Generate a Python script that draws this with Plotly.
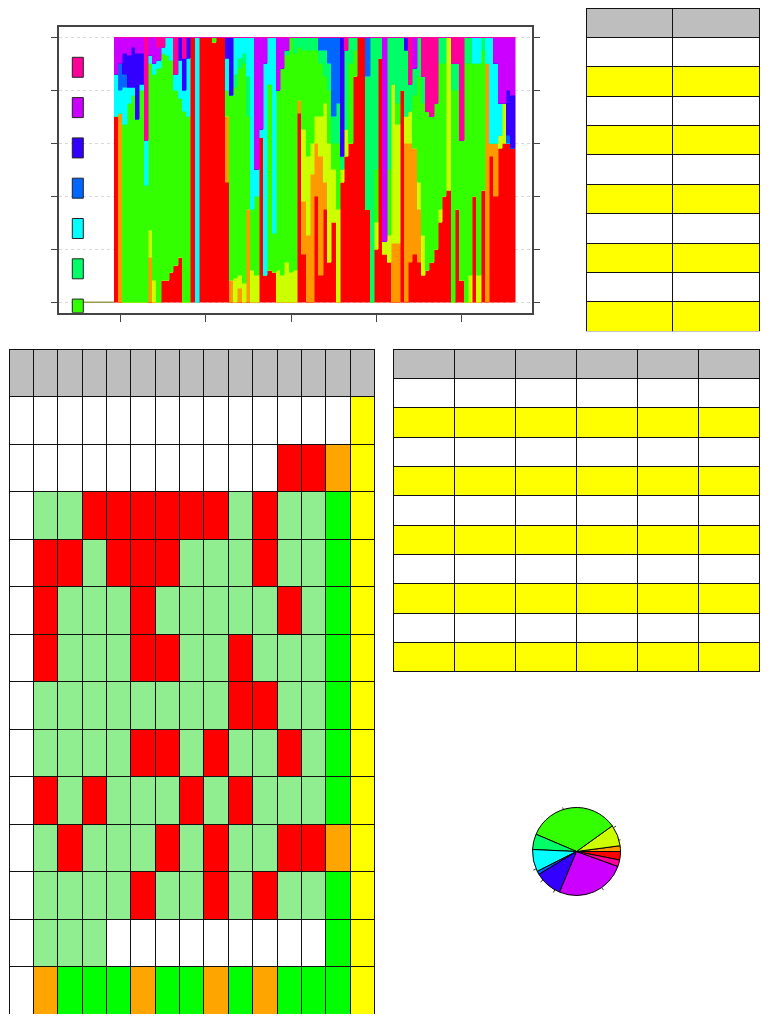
import math
import plotly.graph_objects as go

W, H = 768, 1024

# ---------------- stacked share chart data (10 series, 94 columns) -------------
series_colors = ['#FF0000', '#FF9900', '#CCFF00', '#33FF00', '#00FF66',
                 '#00FFFF', '#0066FF', '#3300FF', '#CC00FF', '#FF0099']

col_x = list(range(19, 113))          # 94 columns
lead_zero_x = [9.8, 18.5]             # stretch with all-zero values

s_red = [70,0,0,0,0,0,0,0,0,0,
         0,8,8,11,14,17,0,0,100,0,
         100,100,100,98,100,100,45,0,0,0,
         0,0,0,0,62,10,12,11,0,0,
         0,0,0,71,18,0,0,40,10,35,
         15,30,0,45,55,60,85,100,100,35,
         0,20,92,18,15,0,0,80,0,15,
         18,15,10,12,15,20,30,40,42,0,
         35,8,0,0,40,0,42,0,55,40,
         58,60,60,58]
s_orange = [0,71,0,0,0,0,0,0,17,0,
            0,0,0,0,0,0,0,0,0,0,
            0,0,0,0,0,0,25,8,0,5,
            0,35,0,0,0,0,0,0,0,0,
            0,0,0,5,20,25,48,20,45,10,
            0,0,0,0,0,0,0,0,0,0,
            0,0,0,0,0,22,22,0,60,45,
            40,20,0,0,0,0,0,0,0,0,
            0,0,0,0,0,0,0,90,5,20,
            0,0,0,0]
s_yellow = [0,0,0,0,0,0,0,0,10,8,
            0,0,0,0,0,0,0,0,0,0,
            0,0,0,0,0,0,0,0,9,5,
            7,0,12,10,0,0,0,0,12,10,
            15,11,12,0,27,30,12,10,15,30,
            45,20,35,5,10,0,0,0,0,0,
            0,10,0,5,10,60,45,0,10,12,
            0,10,15,0,0,0,5,0,58,0,
            0,0,0,10,0,10,0,0,0,0,
            5,15,0,0]
s_green = [0,0,67,75,78,69,80,44,63,78,
           88,86,85,80,66,60,72,70,0,0,
           0,0,0,2,0,0,10,70,72,78,
           83,35,23,30,0,0,70,15,68,78,
           78,89,82,20,30,40,35,25,20,10,
           20,10,25,0,0,30,10,0,0,0,
           0,20,0,0,25,0,8,0,0,0,
           20,40,50,60,55,55,55,50,0,80,
           45,53,90,80,50,80,53,0,0,0,
           0,0,0,0]
s_spring = [0,0,0,0,0,0,0,0,0,0,
            0,0,0,0,0,0,0,0,0,0,
            0,0,0,0,0,0,0,0,5,4,
            4,15,0,0,0,0,0,0,0,0,
            2,0,6,4,5,5,5,5,5,10,
            10,10,15,5,30,10,5,0,0,50,
            100,50,8,0,50,18,25,20,25,10,
            10,15,10,0,0,0,10,10,0,10,
            10,0,10,10,0,0,5,0,0,0,
            0,0,0,0]
s_cyan = [16,9,14,6,3,0,2,17,3,4,
          3,2,7,9,6,14,8,22,0,100,
          0,0,0,0,0,0,12,0,14,8,
          6,15,65,10,3,80,18,74,0,0,
          0,0,0,0,0,0,0,0,0,0,
          0,0,0,0,0,0,0,0,0,0,
          0,0,0,0,0,0,0,0,0,0,
          0,0,0,0,0,0,0,0,0,0,
          0,0,0,0,10,10,0,10,40,30,
          12,0,0,0]
s_azure = [0,10,5,0,0,0,0,0,0,0,
           0,0,0,0,0,0,0,0,0,0,
           0,0,0,0,0,0,0,0,0,0,
           0,0,0,0,0,0,0,0,0,0,
           0,0,0,0,0,0,0,0,5,5,
           10,30,25,0,0,0,0,0,0,15,
           0,0,0,0,0,0,0,0,0,0,
           0,0,0,0,0,0,0,0,0,0,
           0,0,0,0,0,0,0,0,0,0,
           0,0,3,0]
s_blue = [0,0,8,12,15,25,12,0,0,0,
          0,0,0,0,0,9,12,8,0,0,
          0,0,0,0,0,0,8,22,0,0,
          0,0,0,0,0,0,0,0,0,0,
          0,0,0,0,0,0,0,0,0,0,
          0,0,0,45,0,0,0,0,0,0,
          0,0,0,0,0,0,0,0,5,0,
          0,0,0,0,0,0,0,0,0,0,
          0,0,0,0,0,0,0,0,0,0,
          0,0,17,20]
s_purple = [14,10,6,7,4,6,6,0,7,10,
            5,0,0,0,0,0,0,0,0,0,
            0,0,0,0,0,0,0,0,0,0,
            0,0,0,50,35,10,0,0,20,12,
            5,0,0,0,0,0,0,0,0,0,
            0,0,0,0,0,0,0,0,0,0,
            0,0,0,77,0,0,0,0,0,0,
            12,0,0,0,0,0,0,0,0,0,
            0,0,0,0,0,0,0,0,0,10,
            25,25,20,22]
s_pink = [0,0,0,0,0,0,0,39,0,0,
          4,4,0,0,14,0,8,0,0,0,
          0,0,0,0,0,0,0,0,0,0,
          0,0,0,0,0,0,0,0,0,0,
          0,0,0,0,0,0,0,0,0,0,
          0,0,0,0,5,0,0,0,0,0,
          0,0,0,0,0,0,0,0,0,18,
          0,0,15,28,30,25,0,0,0,10,
          10,39,0,0,0,0,0,0,0,0,
          0,0,0,0]

series = [s_red, s_orange, s_yellow, s_green, s_spring,
          s_cyan, s_azure, s_blue, s_purple, s_pink]
y_ticks = [0, 20, 40, 60, 80, 100]
x_ticks = [20, 40, 60, 80, 100]

# ---------------- pie data -------------
pie_values = [3.1, 2.1, 7.8, 33.7, 5.7, 8.2, 1.25, 10.0, 25.8, 2.4]

# ---------------- table data -------------
small_rows = 10
mid_rows = 10
mid_cols = 6
big_rows = [
    "WWWWWWWWWWWWWWY",
    "WWWWWWWWWWWRROY",
    "WLLRRRRRRLRLLGY",
    "WRRLRRRLLLRLLGY",
    "WRLLLRLLLLLRLGY",
    "WRLLLRRLLRLLLGY",
    "WLLLLLLLLRRLLGY",
    "WLLLLRRLRLLRLGY",
    "WRLRLLLRLRLLLGY",
    "WLRLLLRLRLLRROY",
    "WLLLLRLLRLRLLGY",
    "WLLLWWWWWWWWWGY",
    "WOGGGOGGOGOGGGY",
]
code_color = {'W': '#ffffff', 'L': '#90ee90', 'R': '#ff0000',
              'O': '#ffa500', 'G': '#00ff00', 'Y': '#ffff00'}

# ---------------- geometry helpers (pixel -> axis units) -------------
PXU = 401 / 94.0
def vx(px):
    return 18.5 + (px - 114) / PXU
def vy(py):
    return (302.3 - py) / 2.65
def fx(px):
    return px / W
def fy(py):
    return 1 - py / H

fig = go.Figure()

# stacked bars
for vals, c in zip(series, series_colors):
    fig.add_trace(go.Bar(x=col_x, y=vals, width=1, marker=dict(color=c, line=dict(color=c, width=0.5)),
                         xaxis='x', yaxis='y', hoverinfo='skip'))

fig.add_trace(go.Scatter(x=lead_zero_x, y=[0, 0], mode='lines',
                         line=dict(color='#9b9b50', width=1.5), xaxis='x', yaxis='y', hoverinfo='skip'))

# legend keys (top to bottom: last series first)
shapes = []
y_lo = vy(312.7)
for i, c in enumerate(reversed(series_colors)):
    top = 57.3 + i * 40.3
    bot = top + 20
    y0 = max(vy(bot), y_lo)
    y1 = vy(top)
    if y1 <= y_lo:
        continue
    shapes.append(dict(type='rect', xref='x', yref='y', x0=vx(72.3), x1=vx(83.3), y0=y0, y1=y1,
                       fillcolor=c, line=dict(color='#222222', width=1)))

# pie
pie_dom_x = [fx(532.5), fx(620.5)]
pie_dom_y = [fy(895.5), fy(807.5)]
fig.add_trace(go.Pie(values=pie_values, marker=dict(colors=series_colors, line=dict(color='black', width=1)),
                     sort=False, direction='counterclockwise', rotation=90, textinfo='none',
                     domain=dict(x=pie_dom_x, y=pie_dom_y), hoverinfo='skip', showlegend=False))

# pie label ticks
tot = sum(pie_values)
acc = 0
tx, ty = [], []
for v in pie_values:
    mid = (acc + v / 2) / tot * 2 * math.pi
    acc += v
    tx += [math.cos(mid), 1.07 * math.cos(mid), None]
    ty += [math.sin(mid), 1.07 * math.sin(mid), None]
fig.add_trace(go.Scatter(x=tx, y=ty, mode='lines', line=dict(color='#333333', width=1),
                         xaxis='x2', yaxis='y2', hoverinfo='skip', showlegend=False))

# tables
line_c = '#111111'
def alt_fill(n):
    return ['#ffffff' if r % 2 == 0 else '#ffff00' for r in range(n)]

fig.add_trace(go.Table(
    domain=dict(x=[fx(586), fx(759.3)], y=[fy(331.7), fy(8.3)]),
    header=dict(values=['', ''], fill_color='#bebebe', line=dict(color=line_c, width=1), height=29),
    cells=dict(values=[[''] * small_rows] * 2, fill_color=[alt_fill(small_rows)] * 2,
               line=dict(color=line_c, width=1), height=29.4)))

fig.add_trace(go.Table(
    domain=dict(x=[fx(393.3), fx(759.3)], y=[fy(672.7), fy(349)]),
    header=dict(values=[''] * mid_cols, fill_color='#bebebe', line=dict(color=line_c, width=1), height=29.3),
    cells=dict(values=[[''] * mid_rows] * mid_cols, fill_color=[alt_fill(mid_rows)] * mid_cols,
               line=dict(color=line_c, width=1), height=29.35)))

ncols = len(big_rows[0])
big_fill = [[code_color[row[c]] for row in big_rows] for c in range(ncols)]
fig.add_trace(go.Table(
    domain=dict(x=[fx(9.3), fx(375)], y=[fy(1014.3), fy(349)]),
    columnwidth=[24] + [24.4] * 13 + [24],
    header=dict(values=[''] * ncols, fill_color='#bebebe', line=dict(color=line_c, width=1), height=47.7),
    cells=dict(values=[[''] * len(big_rows)] * ncols, fill_color=big_fill,
               line=dict(color=line_c, width=1), height=47.5)))

frame_c = '#444444'
fig.update_layout(
    width=W, height=H, margin=dict(l=0, r=0, t=0, b=0),
    paper_bgcolor='white', plot_bgcolor='white', showlegend=False,
    barmode='stack', bargap=0,
    shapes=shapes,
    xaxis=dict(domain=[fx(59.3), fx(531.7)], range=[vx(59.3), vx(531.7)], showgrid=False, zeroline=False,
               showline=True, linecolor=frame_c, linewidth=1.5, mirror=True,
               ticks='outside', ticklen=8, tickcolor=frame_c, tickwidth=1.2,
               tickvals=x_ticks, showticklabels=False, anchor='y'),
    yaxis=dict(domain=[fy(312.7), fy(26.7)], range=[vy(312.7), vy(26.7)], showgrid=True,
               gridcolor='#d9d9d9', griddash='dot', gridwidth=1, zeroline=False,
               showline=True, linecolor=frame_c, linewidth=1.5, mirror='ticks',
               ticks='outside', ticklen=7, tickcolor=frame_c, tickwidth=1.2,
               tickvals=y_ticks, showticklabels=False, anchor='x'),
    xaxis2=dict(domain=pie_dom_x, range=[-1, 1], visible=False, anchor='y2'),
    yaxis2=dict(domain=pie_dom_y, range=[-1, 1], visible=False, anchor='x2'),
)

fig.write_html("out.html")
